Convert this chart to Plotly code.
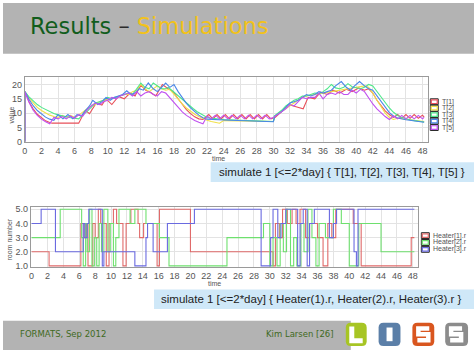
import plotly.graph_objects as go

W, H = 474, 355

# ---------------- data ----------------
time_ticks = list(range(0, 49, 2))
temp_names = ["T[1]", "T[2]", "T[3]", "T[4]", "T[5]"]
temp_colors = ["#e8505a", "#f0e04a", "#4ee88a", "#4a86e8", "#c050f0"]

T1_points = [(0,0),(0,17.5),(0.5,14.0),(1,11.5),(1.5,9.6),(2,8.3),(2.5,7.3),(3,6.7),(3.3,6.5),(6.5,6.5),
    (7.3,11.0),(7.8,9.8),(8.6,13.5),(9.3,12.8),(9.8,15.0),(10.5,13.0),(11.3,15.8),(12.0,15.0),(12.7,17.0),
    (13.3,16.0),(14.0,19.8),(14.6,18.0),(15.2,17.2),(15.8,16.0),(16.6,20.0),(17.3,18.5),(17.9,17.5),(18.5,15.0),
    (19.0,13.0),(19.5,11.2),(20.0,9.8),(20.5,8.7),(21.0,8.0),(21.5,7.8),(22.2,9.5),(22.7,8.0),(23.2,9.5),(23.7,8.0),
    (24.2,9.5),(24.7,8.0),(25.2,9.5),(25.7,8.0),(26.2,9.5),(26.7,8.0),(27.2,9.5),(27.7,8.0),(28.2,9.5),(28.7,8.0),
    (29.2,9.5),(29.7,8.0),(30.2,8.5),(31.0,10.5),(31.8,13.0),(32.5,12.5),(33.6,11.5),(34.2,15.5),(35.0,15.0),
    (35.7,17.3),(36.5,16.5),(37.2,18.0),(38.0,17.0),(38.8,18.3),(39.5,17.5),(40.3,18.8),(41.0,18.0),(41.5,18.5),
    (42.0,17.0),(42.5,14.5),(43.0,12.5),(43.5,10.8),(44.0,9.5),(44.5,8.5),(45.0,9.5),(45.5,8.2),(46.0,9.5),
    (46.5,8.2),(47.0,9.5),(47.5,8.2),(48.0,9.3),(48.2,8.6)]
T2_points = [(0,0),(0,17.5),(0.5,15.2),(1,13.4),(1.5,12.0),(2,10.9),(2.5,10.0),(3,9.3),(3.5,8.8),(4,8.5),(4.5,9.2),
    (5,8.6),(5.5,9.2),(6,8.6),(6.5,9.3),(7,10.5),(7.5,11.5),(8,12.5),(8.5,13.0),(9,14.0),(9.5,14.5),(10,15.0),
    (10.5,15.0),(11,15.5),(11.5,16.0),(12,16.5),(12.5,16.5),(13,17.5),(13.5,18.0),(14,20.0),(14.5,18.5),(15,17.5),
    (15.5,18.5),(16,19.5),(16.5,18.5),(17,18.0),(17.5,18.3),(18,16.5),(18.5,14.8),(19,13.2),(19.5,11.8),(20,10.6),
    (20.5,9.6),(21,8.8),(21.5,8.1),(22,7.5),(22.5,7.1),(23,6.8),(23.5,6.5),(24,7.4),(26,7.3),(28,7.2),(30,7.1),
    (30.2,9.0),(31,10.5),(32,12.5),(33,14.5),(33.5,15.5),(34,16.0),(35,16.5),(36,17.0),(37,17.5),(38,18.0),
    (39,18.5),(40,19.0),(41,19.5),(41.5,19.0),(42,17.0),(42.5,14.5),(43,12.0),(43.5,10.0),(44,8.5),(44.5,7.8),
    (45,8.2),(46,7.8),(47,7.5),(48,7.2),(48.2,7.1)]
T3_points = [(0,0),(0,17.5),(0.5,15.7),(1,14.2),(1.5,13.0),(2,12.0),(2.5,11.2),(3,10.5),(3.5,9.9),(4,9.4),(4.5,9.0),
    (5,8.7),(5.5,8.4),(6,8.2),(6.5,8.0),(7,9.5),(7.5,10.5),(8,12.0),(8.5,13.5),(9,14.0),(9.5,14.5),(10,15.5),
    (10.5,15.0),(11,15.5),(11.5,16.0),(12,16.5),(12.5,17.0),(13,16.5),(13.5,18.5),(14,20.5),(14.5,19.0),(15,18.5),
    (15.5,20.5),(16,19.5),(16.5,18.5),(17,18.5),(17.3,19.0),(17.8,17.8),(18.3,16.5),(18.8,15.2),(19.3,14.0),
    (19.8,12.8),(20.3,11.6),(20.8,10.5),(21.3,9.6),(21.8,8.8),(22.3,8.3),(23,8.0),(24,7.8),(26,7.5),(28,7.3),
    (30,7.1),(30.1,9.0),(31,11.0),(31.5,12.5),(32,13.5),(32.5,14.5),(33,15.0),(33.5,16.0),(34,16.0),(34.5,16.5),
    (35,17.0),(35.5,16.8),(36,17.5),(36.5,18.5),(37,20.0),(37.5,18.8),(38,18.5),(38.5,19.0),(39,20.3),(39.5,19.2),
    (40,18.8),(40.5,18.5),(41,19.0),(41.5,20.0),(42,19.5),(42.5,17.5),(43,15.5),(43.5,13.5),(44,11.8),(44.5,10.3),
    (45,9.2),(45.5,8.5),(46,8.0),(46.5,7.7),(47,7.4),(47.5,7.2),(48,7.0),(48.2,6.9)]
T4_points = [(0,0),(0,17.5),(0.5,14.8),(1,12.6),(1.5,10.9),(2,9.6),(2.5,8.6),(3,7.9),(3.5,7.5),(4,9.5),(4.6,8.0),
    (5.2,9.5),(5.8,8.0),(6.3,9.5),(6.8,9.0),(7.2,10.5),(7.8,12.5),(8.2,14.5),(8.8,13.0),(9.3,14.0),(9.8,15.5),
    (10.3,14.5),(10.8,15.5),(11.3,16.0),(11.8,16.5),(12.3,17.8),(12.8,16.5),(13.3,17.0),(13.8,18.5),(14.3,18.0),
    (14.9,20.5),(15.5,18.5),(16.0,17.5),(16.5,19.0),(17.0,20.5),(17.5,19.0),(18.0,20.0),(18.5,17.5),(19.0,15.3),
    (19.5,13.4),(20.0,11.8),(20.5,10.4),(21.0,9.3),(21.5,8.4),(22.0,7.9),(24,7.6),(26,7.4),(28,7.2),(30,7.0),
    (30.2,9.0),(31,10.5),(31.5,12.0),(32,13.5),(32.5,14.0),(33,14.5),(33.5,15.5),(34,16.5),(34.5,16.0),(35,16.5),
    (35.5,17.5),(36,17.0),(36.5,17.5),(37,18.0),(37.5,19.5),(38.2,21.0),(38.8,19.0),(39.3,18.0),(39.8,19.5),
    (40.4,21.0),(41,19.5),(41.5,18.5),(42,18.0),(42.5,16.0),(43,13.8),(43.5,11.8),(44,10.2),(44.5,9.0),(45,8.3),
    (46,7.7),(47,7.3),(48,6.9),(48.2,6.8)]
T5_points = [(0,0),(0,17.5),(0.5,13.8),(1,11.0),(1.5,9.2),(2,7.9),(2.5,7.0),(3,6.3),(3.5,8.5),(4,8.0),(4.5,8.8),
    (5,8.0),(5.5,9.0),(6,8.2),(6.5,9.5),(7,9.0),(7.5,11.0),(8,12.5),(8.5,13.5),(9,13.0),(9.5,14.0),(10,14.5),
    (10.5,15.5),(11,15.0),(11.5,16.0),(12,16.5),(12.5,17.0),(13,16.0),(13.5,17.5),(14,16.0),(14.5,17.0),(15,17.5),
    (15.5,16.5),(16,16.0),(16.5,17.5),(17,17.0),(17.5,15.3),(18,13.4),(18.5,11.8),(19,10.4),(19.5,9.2),(20,8.2),
    (20.5,7.4),(21,6.8),(21.5,6.3),(22,9.0),(22.5,8.0),(23,9.3),(23.5,8.0),(24,9.3),(24.5,8.0),(25,9.3),(25.5,8.0),
    (26,9.3),(26.5,8.0),(27,9.3),(27.5,8.0),(28,9.3),(28.5,8.0),(29,9.3),(29.5,8.0),(30,8.5),(30.5,9.5),(31,10.5),
    (31.5,11.5),(32,13.0),(32.5,12.5),(33,14.0),(33.5,15.5),(34,15.0),(34.5,15.5),(35,15.5),(35.5,17.0),(36,15.0),
    (36.5,16.5),(37,17.0),(37.5,16.5),(38,17.5),(38.5,16.5),(39,16.5),(39.5,18.0),(40,17.0),(40.5,18.3),(41,17.5),
    (41.5,15.2),(42,13.2),(42.5,11.5),(43,10.0),(43.5,8.8),(44,7.8),(44.5,9.0),(45,8.0),(45.5,9.2),(46,8.0),
    (46.5,9.2),(47,8.0),(47.5,9.2),(48,8.0),(48.2,8.5)]
temp_series = [T1_points, T2_points, T3_points, T4_points, T5_points]

heater_names = ["Heater[1].r", "Heater[2].r", "Heater[3].r"]
heater_colors = ["#e06a6a", "#6ee06e", "#6a6ae0"]
H1_steps = [(0,2),(2.2,1),(6.2,4),(6.6,3),(6.9,4),(7.1,1),(7.7,4),(8.0,3),(8.4,5),(8.7,4),(9.4,1),(9.75,4),
    (10.3,5),(10.7,4),(11.5,1),(11.9,4),(12.5,5),(13.4,4),(13.6,3),(14.1,4),(15.8,1),(16.1,5),(20.0,2),(30.4,1),
    (30.7,4),(31.2,3),(31.6,5),(32.2,4),(32.8,5),(33.3,4),(33.8,5),(34.5,3),(35.0,4),(36.0,3),(36.7,1),(37.3,4),
    (37.8,3),(38.3,5),(40.5,4),(41.5,1),(47.8,3),(48.2,3)]
H2_steps = [(0,3),(3.6,5),(6.3,3),(6.5,1),(6.8,4),(7.0,2),(7.3,5),(7.6,1),(7.9,3),(8.2,1),(8.5,4),(8.8,2),(9.1,5),
    (9.6,2),(9.9,4),(10.3,1),(10.6,3),(11.0,5),(12.4,4),(13.0,5),(14.4,4),(16.1,3),(17.3,1),(24.6,3),(29.2,4),
    (30.0,1),(30.4,3),(30.9,1),(31.3,4),(31.7,2),(32.1,5),(32.6,1),(33.0,3),(33.4,1),(33.9,4),(34.3,2),(34.8,5),
    (35.3,3),(35.8,1),(36.2,4),(37.0,3),(38.0,5),(39.0,4),(40.0,1),(41.2,4),(44.0,2),(48.2,2)]
H3_steps = [(0,4),(1.2,5),(3.0,2),(6.5,4),(6.7,3),(7.0,4),(7.2,5),(8.9,1),(9.1,2),(13.0,1),(14.4,3),(14.6,4),
    (15.3,2),(17.1,4),(20.5,5),(28.9,1),(30.1,3),(30.4,5),(31.0,3),(31.4,4),(32.0,5),(33.5,1),(33.8,4),(34.2,5),
    (34.7,1),(35.0,4),(35.6,5),(37.5,3),(38.0,4),(38.4,5),(40.6,2),(40.9,1),(41.1,5),(48.2,5)]
heater_series = [H1_steps, H2_steps, H3_steps]
room_ticks = [1, 2, 3, 4, 5]
room_ticktext = ["1.0", "2.0", "3.0", "4.0", "5.0"]

title_parts = ["Results", "–", "Simulations"]
box1_text = "simulate 1 [<=2*day] { T[1], T[2], T[3], T[4], T[5] }"
box2_text = "simulate 1 [<=2*day] { Heater(1).r, Heater(2).r, Heater(3).r }"
footer_left = "FORMATS, Sep 2012"
footer_right = "Kim Larsen [26]"

# ---------------- helpers ----------------
def px(x):
    return x / W

def py(y):
    return 1 - y / H

fig = go.Figure()

for pts, name, col in zip(temp_series, temp_names, temp_colors):
    fig.add_trace(go.Scatter(x=[p[0] for p in pts], y=[p[1] for p in pts], mode="lines", name=name,
                             line=dict(color=col, width=1.1), xaxis="x", yaxis="y"))

for pts, name, col in zip(heater_series, heater_names, heater_colors):
    fig.add_trace(go.Scatter(x=[p[0] for p in pts], y=[p[1] for p in pts], mode="lines", name=name,
                             line=dict(color=col, width=1.1, shape="hv"), xaxis="x2", yaxis="y2"))

tickfont = dict(family="Liberation Sans, Arial", size=9, color="#555")
axis_common = dict(showgrid=True, gridcolor="#e3e3e3", gridwidth=1, showline=True, linecolor="#9a9a9a",
                   linewidth=1, mirror=True, ticks="", zeroline=False, tickfont=tickfont, fixedrange=True)

fig.update_layout(
    width=W, height=H, margin=dict(l=0, r=0, t=0, b=0), paper_bgcolor="white", plot_bgcolor="white",
    showlegend=False,
    xaxis=dict(domain=[px(22), px(428)], range=[0, 48.7], tickvals=time_ticks, anchor="y", **axis_common),
    yaxis=dict(domain=[py(142), py(76)], range=[0, 22.5], tickvals=[0, 5, 10, 15, 20], anchor="x", **axis_common),
    xaxis2=dict(domain=[px(28), px(418)], range=[-0.1, 48.7], tickvals=time_ticks, anchor="y2", **axis_common),
    yaxis2=dict(domain=[py(270), py(209)], range=[0.93, 5.14], tickvals=room_ticks, ticktext=room_ticktext,
                anchor="x2", **axis_common),
)

shapes = []
# header / footer bands
shapes.append(dict(type="rect", xref="paper", yref="paper", x0=0, x1=1, y0=py(52), y1=1,
                   fillcolor="#b3b3b3", line=dict(width=0), layer="below"))
shapes.append(dict(type="rect", xref="paper", yref="paper", x0=0, x1=px(350), y0=0, y1=py(325),
                   fillcolor="#b3b3b3", line=dict(width=0), layer="below"))
# caption boxes
shapes.append(dict(type="rect", xref="paper", yref="paper", x0=px(209), x1=1, y0=py(183), y1=py(163),
                   fillcolor="#cfe8f8", line=dict(width=0), layer="below"))
shapes.append(dict(type="rect", xref="paper", yref="paper", x0=px(152), x1=1, y0=py(313), y1=py(293),
                   fillcolor="#cfe8f8", line=dict(width=0), layer="below"))

annotations = []
# legends
def legend_item(x, yc, col, label):
    shapes.append(dict(type="rect", xref="paper", yref="paper", x0=px(x), x1=px(x + 8), y0=py(yc + 3),
                       y1=py(yc - 3), line=dict(color="#222", width=1), fillcolor="rgba(0,0,0,0)"))
    shapes.append(dict(type="rect", xref="paper", yref="paper", x0=px(x + 1), x1=px(x + 7), y0=py(yc + 1.8),
                       y1=py(yc - 1.8), line=dict(color=col, width=1.2), fillcolor="white"))
    annotations.append(dict(x=px(x + 10), y=py(yc), xref="paper", yref="paper", text=label, showarrow=False,
                            xanchor="left", yanchor="middle",
                            font=dict(family="Liberation Sans, Arial", size=7, color="#555")))

for i, (name, col) in enumerate(zip(temp_names, temp_colors)):
    legend_item(430, 101 + i * 6.6, col, name)
for i, (name, col) in enumerate(zip(heater_names, heater_colors)):
    legend_item(421, 238 + i * 7, col, name)

# logos
def rrect_path(x0, y0, x1, y1, r):
    pts = lambda x, y: f"{px(x):.5f},{py(y):.5f}"
    return (f"M {pts(x0 + r, y0)} L {pts(x1 - r, y0)} Q {pts(x1, y0)} {pts(x1, y0 + r)} "
            f"L {pts(x1, y1 - r)} Q {pts(x1, y1)} {pts(x1 - r, y1)} L {pts(x0 + r, y1)} "
            f"Q {pts(x0, y1)} {pts(x0, y1 - r)} L {pts(x0, y0 + r)} Q {pts(x0, y0)} {pts(x0 + r, y0)} Z")

def poly_path(points):
    return "M " + " L ".join(f"{px(x):.5f},{py(y):.5f}" for x, y in points)

logos = [(345, 366, "#a7c524"), (378, 400, "#5b7fa8"), (412, 434, "#d9561f"), (445, 468, "#8c8c8c")]
for x0, x1, col in logos:
    shapes.append(dict(type="path", xref="paper", yref="paper", path=rrect_path(x0, 327, x1, 351, 5),
                       fillcolor=col, line=dict(width=0)))
# glyphs
shapes.append(dict(type="path", xref="paper", yref="paper", path=poly_path([(351, 331), (351, 345.5), (362, 345.5)]),
                   line=dict(color="white", width=5)))
shapes.append(dict(type="path", xref="paper", yref="paper", path=poly_path([(389, 332), (389, 346)]),
                   line=dict(color="white", width=6)))
for x0 in (412, 445):
    s = [(x0 + 17, 333), (x0 + 6, 333), (x0 + 6, 339), (x0 + 16, 339), (x0 + 16, 345), (x0 + 5, 345)]
    shapes.append(dict(type="path", xref="paper", yref="paper", path=poly_path(s),
                       line=dict(color="white", width=4.5)))

# title
title_html = (f"<span style='color:#115d1c'>{title_parts[0]}</span> "
              f"<span style='color:#2b2b2b'>{title_parts[1]}</span> "
              f"<span style='color:#f2c21b'>{title_parts[2]}</span>")
annotations.append(dict(x=px(25), y=py(24), xref="paper", yref="paper", text=title_html, showarrow=False,
                        xanchor="left", yanchor="middle",
                        font=dict(family="DejaVu Sans", size=22.5)))
# caption texts
annotations.append(dict(x=px(215), y=py(173), xref="paper", yref="paper", text=box1_text, showarrow=False,
                        xanchor="left", yanchor="middle",
                        font=dict(family="Liberation Sans, Arial", size=11.5, color="#222")))
annotations.append(dict(x=px(157), y=py(303), xref="paper", yref="paper", text=box2_text, showarrow=False,
                        xanchor="left", yanchor="middle",
                        font=dict(family="Liberation Sans, Arial", size=11.5, color="#222")))
# axis titles
for (x, y, t, ang) in [(217, 159.5, "time", 0), (8, 114, "value", -90), (213, 286.5, "time", 0),
                       (7, 242, "room number", -90)]:
    annotations.append(dict(x=px(x), y=py(y), xref="paper", yref="paper", text=t, showarrow=False,
                            xanchor="center", yanchor="middle", textangle=ang,
                            font=dict(family="Liberation Sans, Arial", size=7, color="#555")))
# footer
annotations.append(dict(x=px(15), y=py(339), xref="paper", yref="paper", text=footer_left, showarrow=False,
                        xanchor="left", yanchor="middle", font=dict(family="DejaVu Sans", size=8.5, color="#3f6a1e")))
annotations.append(dict(x=px(335), y=py(339), xref="paper", yref="paper", text=footer_right, showarrow=False,
                        xanchor="right", yanchor="middle", font=dict(family="DejaVu Sans", size=8.5, color="#3f6a1e")))

fig.update_layout(shapes=shapes, annotations=annotations)
fig.write_html("out.html")
